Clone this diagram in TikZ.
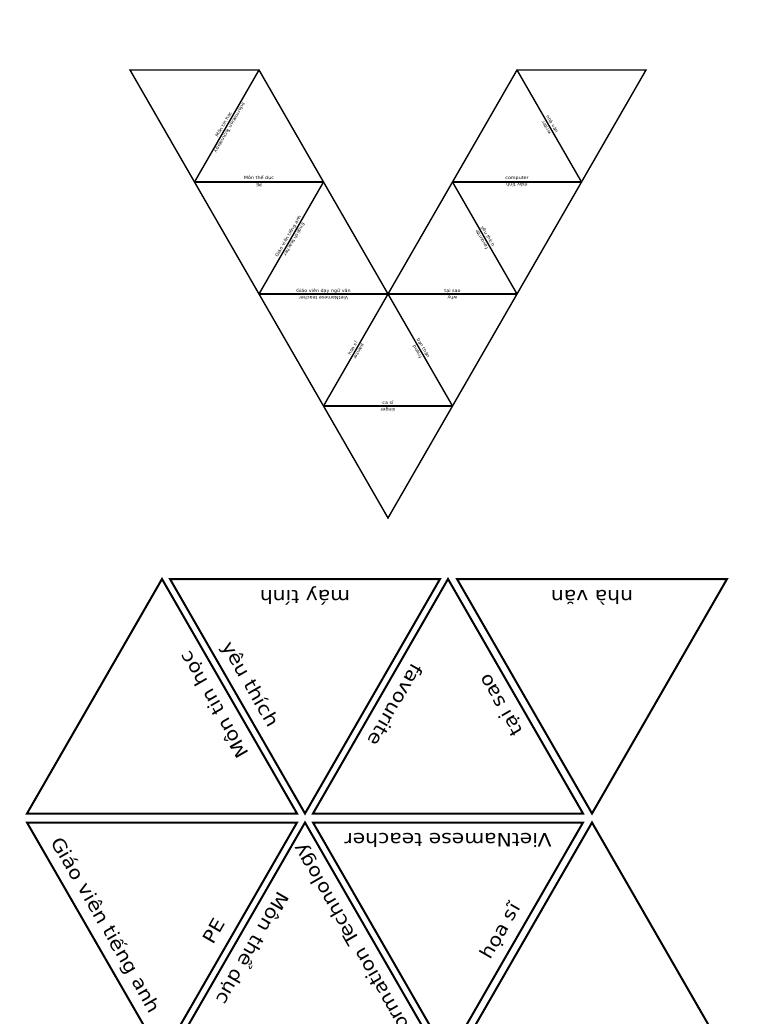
\documentclass[tikz,border=0pt]{standalone}
\usepackage{fontspec}
\setmainfont[FakeStretch=1.1]{DejaVu Sans}
\usetikzlibrary{calc}
\newcommand\edgelab[7]{\node[#1, rotate=#5, anchor=base] (#2) at ($(#3)!0.5!(#4)+(#5+90:#6)$) {#7};}
\begin{document}
\begin{tikzpicture}[x=1pt,y=1pt,
  vline/.style={line width=1.4pt, line join=miter, line cap=butt},
  piece/.style={line width=2pt, line join=miter, miter limit=20},
  small/.style={font=\fontsize{4.4}{5}\selectfont, inner sep=0pt},
  big/.style={font=\fontsize{18.5}{20}\selectfont, inner sep=0pt}]
\useasboundingbox (0,0) rectangle (768,-1024);
\fill[white] (0,0) rectangle (768,-1024);
\clip (0,0) rectangle (768,-1024);

% ---------- the V net ----------
\coordinate (v0a) at (130,-70);
\coordinate (v0b) at (259,-70);
\coordinate (v0c) at (517,-70);
\coordinate (v0d) at (646,-70);
\coordinate (v1a) at (194.5,-182);
\coordinate (v1b) at (323.5,-182);
\coordinate (v1c) at (452.5,-182);
\coordinate (v1d) at (581.5,-182);
\coordinate (v2a) at (259,-294);
\coordinate (v2b) at (388,-294);
\coordinate (v2c) at (517,-294);
\coordinate (v3a) at (323.5,-406);
\coordinate (v3b) at (452.5,-406);
\coordinate (v4) at (388,-518);

\draw[vline] (v0b) -- (v0a) -- (v4) -- (v0d) -- (v0c) -- (v2b) -- cycle;
\draw[vline] (v1a) -- (v1b);
\draw[vline] (v1c) -- (v1d);
\draw[vline] (v2a) -- (v2c);
\draw[vline] (v3a) -- (v3b);
\draw[vline] (v0b) -- (v1a);
\draw[vline] (v1b) -- (v2a);
\draw[vline] (v0c) -- (v1d);
\draw[vline] (v1c) -- (v2c);
\draw[vline] (v2b) -- (v3a);
\draw[vline] (v2b) -- (v3b);

\edgelab{small}{s1}{v0b}{v1a}{60}{2}{Môn tin học}
\edgelab{small}{s2}{v0b}{v1a}{240}{2}{Information Technology}
\edgelab{small}{s3}{v1a}{v1b}{0}{2}{Môn thể dục}
\edgelab{small}{s4}{v1a}{v1b}{180}{2}{PE}
\edgelab{small}{s5}{v1b}{v2a}{60}{2}{Giáo viên tiếng anh}
\edgelab{small}{s6}{v1b}{v2a}{240}{2}{English teacher}
\edgelab{small}{s7}{v2a}{v2b}{0}{2}{Giáo viên dạy ngữ văn}
\edgelab{small}{s8}{v2a}{v2b}{180}{2}{VietNamese teacher}
\edgelab{small}{s9}{v0c}{v1d}{-60}{2}{nhà văn}
\edgelab{small}{s10}{v0c}{v1d}{120}{2}{writer}
\edgelab{small}{s11}{v1c}{v1d}{0}{2}{computer}
\edgelab{small}{s12}{v1c}{v1d}{180}{2}{máy tính}
\edgelab{small}{s13}{v1c}{v2c}{-60}{2}{yêu thích}
\edgelab{small}{s14}{v1c}{v2c}{120}{2}{favourite}
\edgelab{small}{s15}{v2b}{v2c}{0}{2}{tại sao}
\edgelab{small}{s16}{v2b}{v2c}{180}{2}{why}
\edgelab{small}{s17}{v2b}{v3a}{60}{2}{họa sĩ}
\edgelab{small}{s18}{v2b}{v3a}{240}{2}{painter}
\edgelab{small}{s19}{v2b}{v3b}{-60}{2}{bạn thân}
\edgelab{small}{s20}{v2b}{v3b}{120}{2}{friend}
\edgelab{small}{s21}{v3a}{v3b}{0}{2}{ca sĩ}
\edgelab{small}{s22}{v3a}{v3b}{180}{2}{singer}

% ---------- the cut pieces ----------
\coordinate (t1a) at (162,-579);   \coordinate (t1b) at (27,-813.5);  \coordinate (t1c) at (297,-813.5);
\coordinate (t2a) at (170,-579);   \coordinate (t2b) at (440,-579);   \coordinate (t2c) at (305,-813.5);
\coordinate (t3a) at (448,-579);   \coordinate (t3b) at (313,-813.5); \coordinate (t3c) at (583,-813.5);
\coordinate (t4a) at (457,-579);   \coordinate (t4b) at (727,-579);   \coordinate (t4c) at (592,-813.5);
\coordinate (t5a) at (27,-822.5);  \coordinate (t5b) at (297,-822.5); \coordinate (t5c) at (162,-1057);
\coordinate (t6a) at (305,-822.5); \coordinate (t6b) at (170,-1057);  \coordinate (t6c) at (440,-1057);
\coordinate (t7a) at (313,-822.5); \coordinate (t7b) at (583,-822.5); \coordinate (t7c) at (448,-1057);
\coordinate (t8a) at (592,-822.5); \coordinate (t8b) at (457,-1057);  \coordinate (t8c) at (727,-1057);

\foreach \k in {1,...,8} {\draw[piece] (t\k a) -- (t\k b) -- (t\k c) -- cycle;}

\edgelab{big}{b1}{t1a}{t1c}{120}{11}{Môn tin học}
\edgelab{big}{b2}{t2a}{t2b}{180}{11}{máy tính}
\node[big, rotate=-60, anchor=base] (b3) at ($(t2a)!0.485!(t2c)+(30:11)$) {yêu thích};
\edgelab{big}{b4}{t3a}{t3b}{240}{11}{favourite}
\edgelab{big}{b5}{t3a}{t3c}{120}{11}{tại sao}
\edgelab{big}{b6}{t4a}{t4b}{180}{11}{nhà văn}
\node[big, rotate=-60, anchor=base] (b7) at ($(t5a)!0.475!(t5c)+(30:11)$) {Giáo viên tiếng anh};
\edgelab{big}{b8}{t5b}{t5c}{60}{11}{PE}
\edgelab{big}{b9}{t6a}{t6b}{240}{11}{Môn thể dục}
\edgelab{big}{b10}{t6a}{t6c}{120}{11}{Information Technology}
\edgelab{big}{b11}{t7a}{t7b}{180}{11}{VietNamese teacher}
\edgelab{big}{b12}{t7b}{t7c}{60}{11}{họa sĩ}
\end{tikzpicture}
\end{document}
